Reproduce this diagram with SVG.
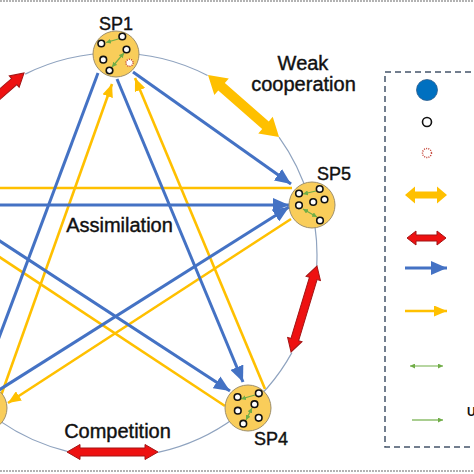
<svg xmlns="http://www.w3.org/2000/svg" width="474" height="474" viewBox="0 0 474 474">
<style>
.lbl{font-family:"Liberation Sans",Arial,sans-serif;font-size:20px;fill:#111;stroke:#111;stroke-width:0.4;text-anchor:middle}
.sp{font-family:"Liberation Sans",Arial,sans-serif;font-size:18px;fill:#111;stroke:#111;stroke-width:0.4;text-anchor:middle}
.blue{stroke:#4472C4;stroke-width:3;fill:none}
.yel{stroke:#FFC000;stroke-width:2.6;fill:none}
.node{fill:#F9CD5A;stroke:#9E8F6B;stroke-width:1}
.dot{fill:#fff;stroke:#111;stroke-width:1.6}
.red-dot{fill:#fff;stroke:#C0392B;stroke-width:1.4;stroke-dasharray:1 1.2}
.grn{stroke:#70AD47;stroke-width:1.2;fill:none}
.big-y{fill:#FFC000}
.big-r{fill:#EE1111;stroke:#A31515;stroke-width:1}
.arc{fill:none;stroke:#8FA3BF;stroke-width:1.2}
</style>
<defs>
<marker id="bh" markerUnits="userSpaceOnUse" markerWidth="16" markerHeight="14" refX="16" refY="7" orient="auto"><path d="M0,0 L16,7 L0,14 Z" fill="#4472C4"/></marker>
<marker id="yh" markerUnits="userSpaceOnUse" markerWidth="13" markerHeight="11" refX="13" refY="5.5" orient="auto"><path d="M0,0 L13,5.5 L0,11 Z" fill="#FFC000"/></marker>
<marker id="gh" markerUnits="userSpaceOnUse" markerWidth="5" markerHeight="5" refX="5" refY="2.5" orient="auto-start-reverse"><path d="M0,0 L5,2.5 L0,5 Z" fill="#70AD47"/></marker>
</defs>

<rect width="474" height="474" fill="#fff"/>
<line x1="0" y1="1" x2="474" y2="1" stroke="#999" stroke-width="1.5" stroke-dasharray="2 1"/>
<line x1="0" y1="471" x2="474" y2="471" stroke="#999" stroke-width="1.5" stroke-dasharray="2 1"/>

<g id="ring">
<path class="arc" d="M115,53 A202,202 0 0 1 207.6,75.5 M279,137.1 A202,202 0 0 1 316.7,265.9 M291.9,352.6 A202,202 0 0 1 158,452.4 M67.2,451.3 A202,202 0 0 1 -49,137.1 M25.2,74.1 A202,202 0 0 1 115,53"/>
</g>

<g id="connectors">
<path class="yel" d="M-2,404 L112,84" marker-end="url(#yh)"/>
<path class="yel" d="M265,389 L135,78" marker-end="url(#yh)"/>
<path class="yel" d="M292,188 L-58,188" marker-end="url(#yh)"/>
<path class="yel" d="M291,219 L8,403" marker-end="url(#yh)"/>
<path class="yel" d="M225,406 L-58,219" marker-end="url(#yh)"/>
<path class="blue" d="M133,72 L291,184" marker-end="url(#bh)"/>
<path class="blue" d="M-60,205 L289,205" marker-end="url(#bh)"/>
<path class="blue" d="M-20,402 L289,207" marker-end="url(#bh)"/>
<path class="blue" d="M117,79 L243,382" marker-end="url(#bh)"/>
<path class="blue" d="M-60,202 L230,391" marker-end="url(#bh)"/>
<path class="blue" d="M98,73 L-18,383" marker-end="url(#bh)"/>
<path class="big-y" transform="translate(208,75) rotate(41.1)" d="M0,0 L18,-11 L18,-5 L76.3,-5 L76.3,-11 L94.3,0 L76.3,11 L76.3,5 L18,5 L18,11 Z"/>
<path class="big-r" transform="translate(317,266) rotate(106.8)" d="M0,0 L13,-7.5 L13,-4 L76.8,-4 L76.8,-7.5 L89.8,0 L76.8,7.5 L76.8,4 L13,4 L13,7.5 Z"/>
<path class="big-r" transform="translate(67,452)" d="M0,0 L13,-7.5 L13,-4 L78,-4 L78,-7.5 L91,0 L78,7.5 L78,4 L13,4 L13,7.5 Z"/>
<path class="big-r" transform="translate(24,73) rotate(138.8)" d="M0,0 L13,-7.5 L13,-4 L84,-4 L84,-7.5 L97,0 L84,7.5 L84,4 L13,4 L13,7.5 Z"/>
</g>

<g id="SP1">
<circle class="node" cx="116" cy="54" r="23"/>
<path class="grn" d="M120,38.5 L106,42.5" marker-end="url(#gh)"/>
<path class="grn" d="M124,53 L112,67" marker-start="url(#gh)" marker-end="url(#gh)"/>
<circle class="dot" cx="122.3" cy="36.5" r="3.3"/>
<circle class="dot" cx="101.3" cy="43.5" r="3.3"/>
<circle class="dot" cx="126.5" cy="49.5" r="3.3"/>
<circle class="dot" cx="103.3" cy="59.7" r="3.3"/>
<circle class="dot" cx="109.5" cy="70.5" r="3.3"/>
<circle class="red-dot" cx="129.5" cy="62.8" r="3.5"/>
<text class="sp" x="116" y="30">SP1</text>
</g>

<g id="SP5">
<circle class="node" cx="312" cy="205" r="23"/>
<path class="grn" d="M316,191 L303,194" marker-end="url(#gh)"/>
<path class="grn" d="M303,209 L317,217" marker-start="url(#gh)" marker-end="url(#gh)"/>
<circle class="dot" cx="299" cy="193.5" r="3.3"/>
<circle class="dot" cx="319.7" cy="189" r="3.3"/>
<circle class="dot" cx="313.2" cy="202" r="3.3"/>
<circle class="dot" cx="324.5" cy="199.5" r="3.3"/>
<circle class="dot" cx="299" cy="205.3" r="3.3"/>
<circle class="dot" cx="320" cy="220.5" r="3.3"/>
<text class="sp" x="334" y="180">SP5</text>
</g>

<g id="SP4">
<circle class="node" cx="248" cy="408" r="23"/>
<path class="grn" d="M255,395 L241,399" marker-end="url(#gh)"/>
<path class="grn" d="M252,408 L246,420" marker-start="url(#gh)" marker-end="url(#gh)"/>
<circle class="dot" cx="237.5" cy="397" r="3.3"/>
<circle class="dot" cx="258.8" cy="393.3" r="3.3"/>
<circle class="dot" cx="254.5" cy="404.2" r="3.3"/>
<circle class="dot" cx="237.8" cy="410.7" r="3.3"/>
<circle class="dot" cx="258.7" cy="417.8" r="3.3"/>
<circle class="dot" cx="243.3" cy="423.7" r="3.3"/>
<text class="sp" x="271" y="445">SP4</text>
</g>

<g id="SP3">
<circle class="node" cx="-16" cy="408" r="23"/>
</g>

<g id="labels">
<text class="lbl" x="303" y="70">Weak</text>
<text class="lbl" x="303.5" y="91">cooperation</text>
<text class="lbl" x="119.5" y="232">Assimilation</text>
<text class="lbl" x="117.5" y="438">Competition</text>
</g>

<g id="legend">
<rect x="385" y="72" width="120" height="375" fill="none" stroke="#44546A" stroke-width="1.5" stroke-dasharray="6 4"/>
<circle cx="427" cy="90" r="10.5" fill="#0070C0" stroke="#2E5E8E" stroke-width="0.8"/>
<circle cx="427" cy="122" r="4.5" fill="#fff" stroke="#111" stroke-width="1.6"/>
<circle cx="427" cy="153" r="4.5" fill="#fff" stroke="#C0392B" stroke-width="1.4" stroke-dasharray="1 1.2"/>
<path class="big-y" transform="translate(405,195)" d="M0,0 L10,-8.5 L10,-3.5 L32,-3.5 L32,-8.5 L42,0 L32,8.5 L32,3.5 L10,3.5 L10,8.5 Z"/>
<path class="big-r" transform="translate(407,238)" d="M0,0 L9,-7 L9,-3 L30,-3 L30,-7 L39,0 L30,7 L30,3 L9,3 L9,7 Z"/>
<path class="blue" d="M405,268 L447,268" marker-end="url(#bh)"/>
<path class="yel" d="M405,311 L447,311" marker-end="url(#yh)"/>
<path class="grn" d="M410,366 L443,366" marker-start="url(#gh)" marker-end="url(#gh)"/>
<path class="grn" d="M412,420 L443,420" marker-end="url(#gh)"/>
<text x="467" y="416" font-family="Liberation Sans, Arial, sans-serif" font-size="12" font-weight="bold" fill="#111">U</text>
</g>
</svg>
